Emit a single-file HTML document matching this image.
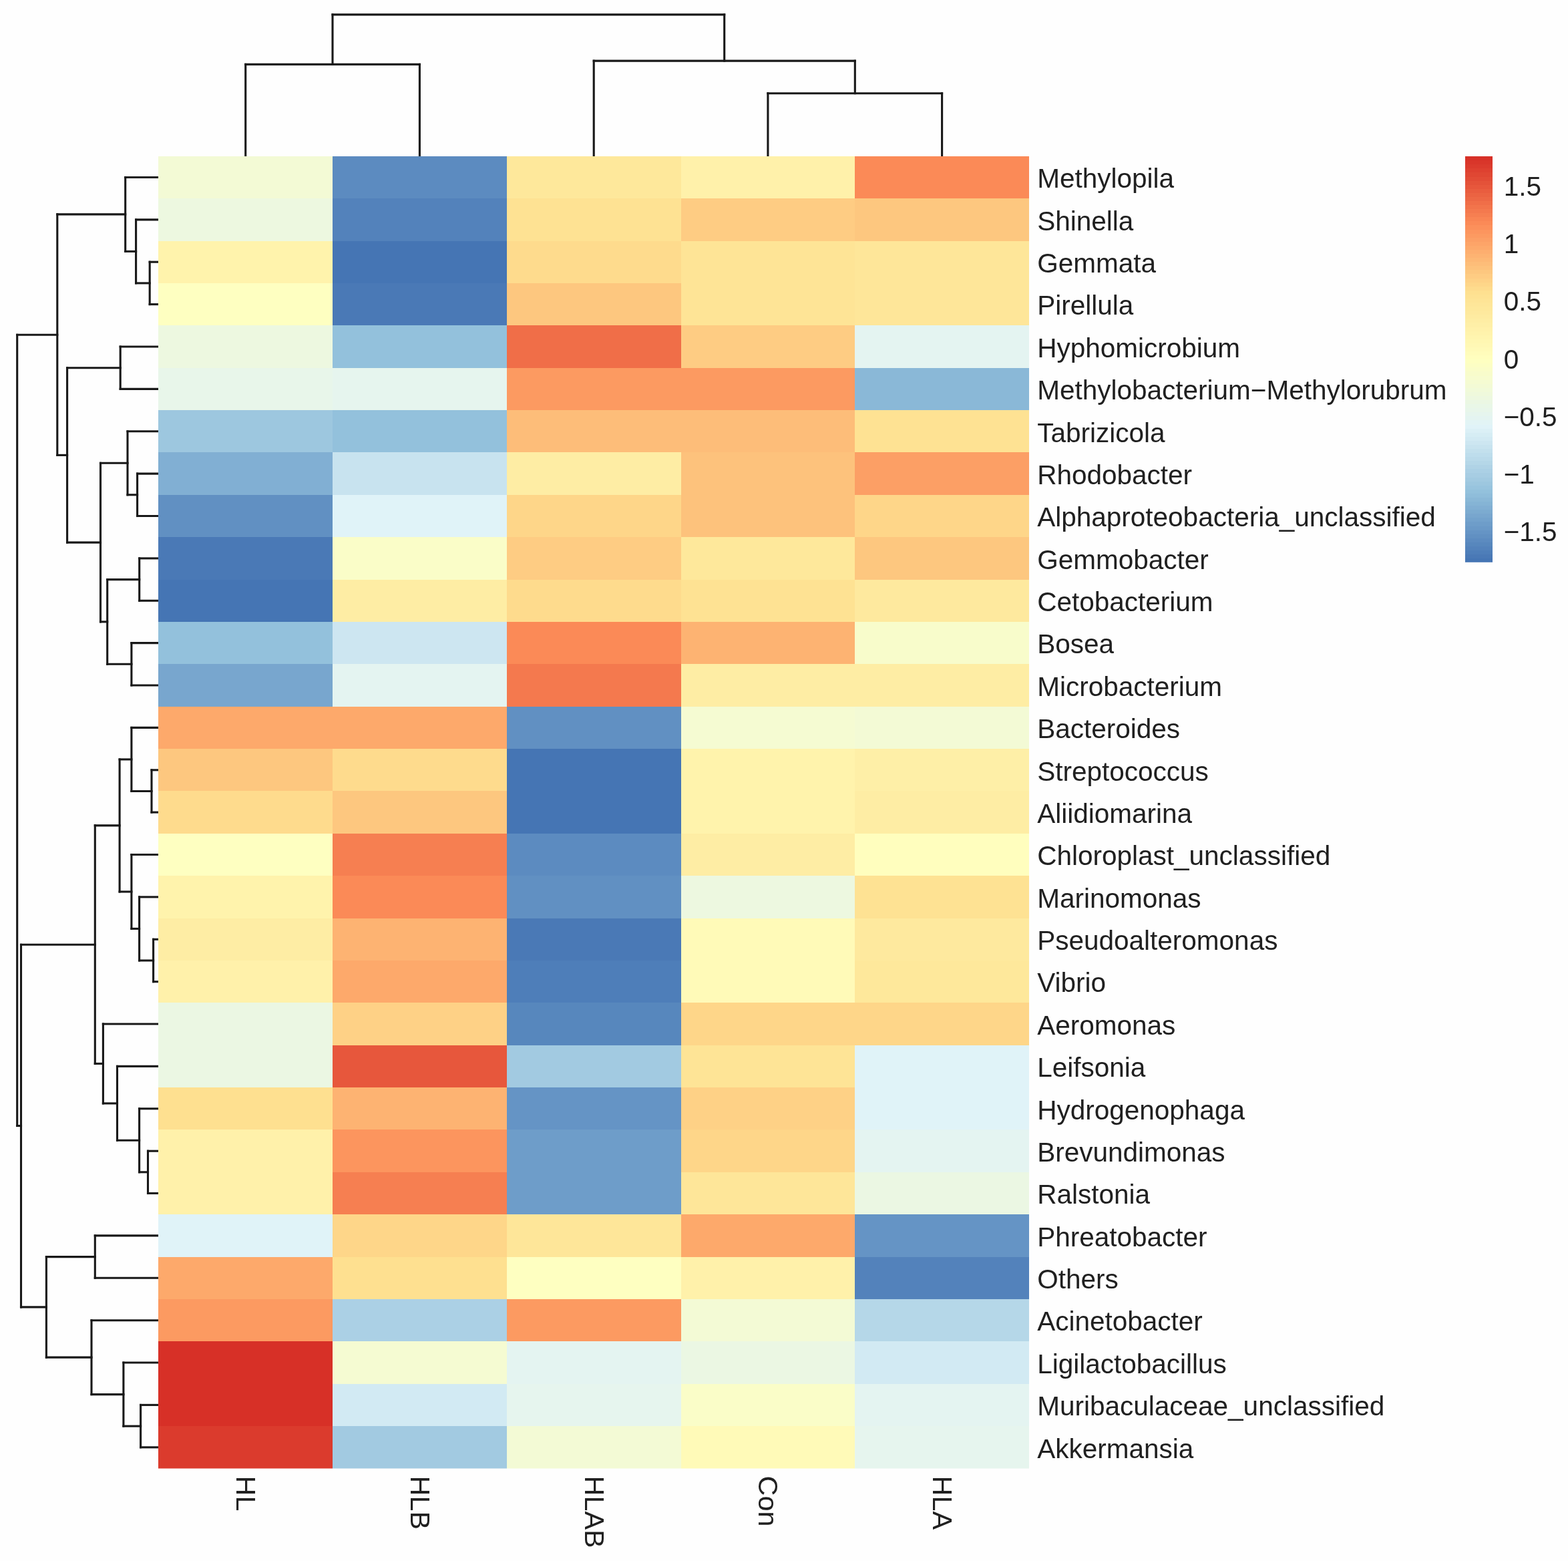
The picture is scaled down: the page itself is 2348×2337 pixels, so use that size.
<!DOCTYPE html>
<html lang="en"><head><meta charset="utf-8"><title>Heatmap</title>
<style>html,body{margin:0;padding:0;background:#fefefe}svg{display:block}</style></head>
<body>
<svg width="2348" height="2337" viewBox="0 0 2348 2337">
<rect width="2348" height="2337" fill="#fefefe"/>
<g stroke="#181818" stroke-width="3.1" stroke-linecap="square" fill="none">
<line x1="224.2" y1="392.2" x2="224.2" y2="455.6"/>
<line x1="224.2" y1="392.2" x2="237.3" y2="392.2"/>
<line x1="224.2" y1="455.6" x2="237.3" y2="455.6"/>
<line x1="203.6" y1="328.9" x2="203.6" y2="423.9"/>
<line x1="203.6" y1="328.9" x2="237.3" y2="328.9"/>
<line x1="203.6" y1="423.9" x2="224.2" y2="423.9"/>
<line x1="187.7" y1="265.5" x2="187.7" y2="376.4"/>
<line x1="187.7" y1="265.5" x2="237.3" y2="265.5"/>
<line x1="187.7" y1="376.4" x2="203.6" y2="376.4"/>
<line x1="180.2" y1="519.0" x2="180.2" y2="582.4"/>
<line x1="180.2" y1="519.0" x2="237.3" y2="519.0"/>
<line x1="180.2" y1="582.4" x2="237.3" y2="582.4"/>
<line x1="205.6" y1="709.1" x2="205.6" y2="772.5"/>
<line x1="205.6" y1="709.1" x2="237.3" y2="709.1"/>
<line x1="205.6" y1="772.5" x2="237.3" y2="772.5"/>
<line x1="191.0" y1="645.8" x2="191.0" y2="740.8"/>
<line x1="191.0" y1="645.8" x2="237.3" y2="645.8"/>
<line x1="191.0" y1="740.8" x2="205.6" y2="740.8"/>
<line x1="208.7" y1="835.9" x2="208.7" y2="899.3"/>
<line x1="208.7" y1="835.9" x2="237.3" y2="835.9"/>
<line x1="208.7" y1="899.3" x2="237.3" y2="899.3"/>
<line x1="196.9" y1="962.6" x2="196.9" y2="1026.0"/>
<line x1="196.9" y1="962.6" x2="237.3" y2="962.6"/>
<line x1="196.9" y1="1026.0" x2="237.3" y2="1026.0"/>
<line x1="160.7" y1="867.6" x2="160.7" y2="994.3"/>
<line x1="160.7" y1="867.6" x2="208.7" y2="867.6"/>
<line x1="160.7" y1="994.3" x2="196.9" y2="994.3"/>
<line x1="150.5" y1="693.3" x2="150.5" y2="930.9"/>
<line x1="150.5" y1="693.3" x2="191.0" y2="693.3"/>
<line x1="150.5" y1="930.9" x2="160.7" y2="930.9"/>
<line x1="100.6" y1="550.7" x2="100.6" y2="812.1"/>
<line x1="100.6" y1="550.7" x2="180.2" y2="550.7"/>
<line x1="100.6" y1="812.1" x2="150.5" y2="812.1"/>
<line x1="85.8" y1="320.9" x2="85.8" y2="681.4"/>
<line x1="85.8" y1="320.9" x2="187.7" y2="320.9"/>
<line x1="85.8" y1="681.4" x2="100.6" y2="681.4"/>
<line x1="227.0" y1="1152.8" x2="227.0" y2="1216.1"/>
<line x1="227.0" y1="1152.8" x2="237.3" y2="1152.8"/>
<line x1="227.0" y1="1216.1" x2="237.3" y2="1216.1"/>
<line x1="196.9" y1="1089.4" x2="196.9" y2="1184.5"/>
<line x1="196.9" y1="1089.4" x2="237.3" y2="1089.4"/>
<line x1="196.9" y1="1184.5" x2="227.0" y2="1184.5"/>
<line x1="229.6" y1="1406.3" x2="229.6" y2="1469.7"/>
<line x1="229.6" y1="1406.3" x2="237.3" y2="1406.3"/>
<line x1="229.6" y1="1469.7" x2="237.3" y2="1469.7"/>
<line x1="208.6" y1="1342.9" x2="208.6" y2="1438.0"/>
<line x1="208.6" y1="1342.9" x2="237.3" y2="1342.9"/>
<line x1="208.6" y1="1438.0" x2="229.6" y2="1438.0"/>
<line x1="196.9" y1="1279.5" x2="196.9" y2="1390.4"/>
<line x1="196.9" y1="1279.5" x2="237.3" y2="1279.5"/>
<line x1="196.9" y1="1390.4" x2="208.6" y2="1390.4"/>
<line x1="179.1" y1="1136.9" x2="179.1" y2="1335.0"/>
<line x1="179.1" y1="1136.9" x2="196.9" y2="1136.9"/>
<line x1="179.1" y1="1335.0" x2="196.9" y2="1335.0"/>
<line x1="221.5" y1="1723.2" x2="221.5" y2="1786.5"/>
<line x1="221.5" y1="1723.2" x2="237.3" y2="1723.2"/>
<line x1="221.5" y1="1786.5" x2="237.3" y2="1786.5"/>
<line x1="208.6" y1="1659.8" x2="208.6" y2="1754.8"/>
<line x1="208.6" y1="1659.8" x2="237.3" y2="1659.8"/>
<line x1="208.6" y1="1754.8" x2="221.5" y2="1754.8"/>
<line x1="175.5" y1="1596.4" x2="175.5" y2="1707.3"/>
<line x1="175.5" y1="1596.4" x2="237.3" y2="1596.4"/>
<line x1="175.5" y1="1707.3" x2="208.6" y2="1707.3"/>
<line x1="154.4" y1="1533.0" x2="154.4" y2="1651.9"/>
<line x1="154.4" y1="1533.0" x2="237.3" y2="1533.0"/>
<line x1="154.4" y1="1651.9" x2="175.5" y2="1651.9"/>
<line x1="142.3" y1="1235.9" x2="142.3" y2="1592.4"/>
<line x1="142.3" y1="1235.9" x2="179.1" y2="1235.9"/>
<line x1="142.3" y1="1592.4" x2="154.4" y2="1592.4"/>
<line x1="142.3" y1="1849.9" x2="142.3" y2="1913.3"/>
<line x1="142.3" y1="1849.9" x2="237.3" y2="1849.9"/>
<line x1="142.3" y1="1913.3" x2="237.3" y2="1913.3"/>
<line x1="210.6" y1="2103.4" x2="210.6" y2="2166.8"/>
<line x1="210.6" y1="2103.4" x2="237.3" y2="2103.4"/>
<line x1="210.6" y1="2166.8" x2="237.3" y2="2166.8"/>
<line x1="184.9" y1="2040.0" x2="184.9" y2="2135.1"/>
<line x1="184.9" y1="2040.0" x2="237.3" y2="2040.0"/>
<line x1="184.9" y1="2135.1" x2="210.6" y2="2135.1"/>
<line x1="137.0" y1="1976.7" x2="137.0" y2="2087.6"/>
<line x1="137.0" y1="1976.7" x2="237.3" y2="1976.7"/>
<line x1="137.0" y1="2087.6" x2="184.9" y2="2087.6"/>
<line x1="69.4" y1="1881.6" x2="69.4" y2="2032.1"/>
<line x1="69.4" y1="1881.6" x2="142.3" y2="1881.6"/>
<line x1="69.4" y1="2032.1" x2="137.0" y2="2032.1"/>
<line x1="31.5" y1="1414.2" x2="31.5" y2="1956.9"/>
<line x1="31.5" y1="1414.2" x2="142.3" y2="1414.2"/>
<line x1="31.5" y1="1956.9" x2="69.4" y2="1956.9"/>
<line x1="25.7" y1="501.2" x2="25.7" y2="1685.5"/>
<line x1="25.7" y1="501.2" x2="85.8" y2="501.2"/>
<line x1="25.7" y1="1685.5" x2="31.5" y2="1685.5"/>
<line x1="367.7" y1="96.4" x2="628.4" y2="96.4"/>
<line x1="367.7" y1="96.4" x2="367.7" y2="233.8"/>
<line x1="628.4" y1="96.4" x2="628.4" y2="233.8"/>
<line x1="1149.9" y1="139.7" x2="1410.6" y2="139.7"/>
<line x1="1149.9" y1="139.7" x2="1149.9" y2="233.8"/>
<line x1="1410.6" y1="139.7" x2="1410.6" y2="233.8"/>
<line x1="889.2" y1="91.1" x2="1280.3" y2="91.1"/>
<line x1="889.2" y1="91.1" x2="889.2" y2="233.8"/>
<line x1="1280.3" y1="91.1" x2="1280.3" y2="139.7"/>
<line x1="498.0" y1="21.9" x2="1084.7" y2="21.9"/>
<line x1="498.0" y1="21.9" x2="498.0" y2="96.4"/>
<line x1="1084.7" y1="21.9" x2="1084.7" y2="91.1"/>
</g>
<g shape-rendering="crispEdges">
<rect x="237.30" y="233.80" width="261.34" height="63.98" fill="#f3fad5"/>
<rect x="498.04" y="233.80" width="261.34" height="63.98" fill="#5c8bc0"/>
<rect x="758.78" y="233.80" width="261.34" height="63.98" fill="#fee89b"/>
<rect x="1019.52" y="233.80" width="261.34" height="63.98" fill="#fff1aa"/>
<rect x="1280.26" y="233.80" width="261.34" height="63.98" fill="#fb8a57"/>
<rect x="237.30" y="297.18" width="261.34" height="63.98" fill="#edf8e0"/>
<rect x="498.04" y="297.18" width="261.34" height="63.98" fill="#5382bb"/>
<rect x="758.78" y="297.18" width="261.34" height="63.98" fill="#fee293"/>
<rect x="1019.52" y="297.18" width="261.34" height="63.98" fill="#fecc83"/>
<rect x="1280.26" y="297.18" width="261.34" height="63.98" fill="#fdc77f"/>
<rect x="237.30" y="360.55" width="261.34" height="63.98" fill="#fff3ac"/>
<rect x="498.04" y="360.55" width="261.34" height="63.98" fill="#4575b4"/>
<rect x="758.78" y="360.55" width="261.34" height="63.98" fill="#fedb8d"/>
<rect x="1019.52" y="360.55" width="261.34" height="63.98" fill="#fee496"/>
<rect x="1280.26" y="360.55" width="261.34" height="63.98" fill="#fee699"/>
<rect x="237.30" y="423.93" width="261.34" height="63.98" fill="#feffc1"/>
<rect x="498.04" y="423.93" width="261.34" height="63.98" fill="#4a79b6"/>
<rect x="758.78" y="423.93" width="261.34" height="63.98" fill="#fdc77f"/>
<rect x="1019.52" y="423.93" width="261.34" height="63.98" fill="#fee496"/>
<rect x="1280.26" y="423.93" width="261.34" height="63.98" fill="#fee699"/>
<rect x="237.30" y="487.31" width="261.34" height="63.98" fill="#edf8e0"/>
<rect x="498.04" y="487.31" width="261.34" height="63.98" fill="#93c1dc"/>
<rect x="758.78" y="487.31" width="261.34" height="63.98" fill="#f06e48"/>
<rect x="1019.52" y="487.31" width="261.34" height="63.98" fill="#fecc83"/>
<rect x="1280.26" y="487.31" width="261.34" height="63.98" fill="#e4f4f1"/>
<rect x="237.30" y="550.68" width="261.34" height="63.98" fill="#e8f6ea"/>
<rect x="498.04" y="550.68" width="261.34" height="63.98" fill="#e6f5ee"/>
<rect x="758.78" y="550.68" width="261.34" height="63.98" fill="#fc9a61"/>
<rect x="1019.52" y="550.68" width="261.34" height="63.98" fill="#fc9a61"/>
<rect x="1280.26" y="550.68" width="261.34" height="63.98" fill="#8ab8d7"/>
<rect x="237.30" y="614.06" width="261.34" height="63.98" fill="#9dc7df"/>
<rect x="498.04" y="614.06" width="261.34" height="63.98" fill="#93c1dc"/>
<rect x="758.78" y="614.06" width="261.34" height="63.98" fill="#fdbd79"/>
<rect x="1019.52" y="614.06" width="261.34" height="63.98" fill="#fdbd79"/>
<rect x="1280.26" y="614.06" width="261.34" height="63.98" fill="#fee293"/>
<rect x="237.30" y="677.44" width="261.34" height="63.98" fill="#81afd3"/>
<rect x="498.04" y="677.44" width="261.34" height="63.98" fill="#c8e3ef"/>
<rect x="758.78" y="677.44" width="261.34" height="63.98" fill="#feeda4"/>
<rect x="1019.52" y="677.44" width="261.34" height="63.98" fill="#fdc27c"/>
<rect x="1280.26" y="677.44" width="261.34" height="63.98" fill="#fc9f65"/>
<rect x="237.30" y="740.82" width="261.34" height="63.98" fill="#6190c2"/>
<rect x="498.04" y="740.82" width="261.34" height="63.98" fill="#e0f3f8"/>
<rect x="758.78" y="740.82" width="261.34" height="63.98" fill="#fed689"/>
<rect x="1019.52" y="740.82" width="261.34" height="63.98" fill="#fdc27c"/>
<rect x="1280.26" y="740.82" width="261.34" height="63.98" fill="#fed689"/>
<rect x="237.30" y="804.19" width="261.34" height="63.98" fill="#4a79b6"/>
<rect x="498.04" y="804.19" width="261.34" height="63.98" fill="#fafdc8"/>
<rect x="758.78" y="804.19" width="261.34" height="63.98" fill="#fecc83"/>
<rect x="1019.52" y="804.19" width="261.34" height="63.98" fill="#fee89b"/>
<rect x="1280.26" y="804.19" width="261.34" height="63.98" fill="#fdc77f"/>
<rect x="237.30" y="867.57" width="261.34" height="63.98" fill="#4575b4"/>
<rect x="498.04" y="867.57" width="261.34" height="63.98" fill="#feeda4"/>
<rect x="758.78" y="867.57" width="261.34" height="63.98" fill="#fedb8d"/>
<rect x="1019.52" y="867.57" width="261.34" height="63.98" fill="#fee293"/>
<rect x="1280.26" y="867.57" width="261.34" height="63.98" fill="#fee99e"/>
<rect x="237.30" y="930.95" width="261.34" height="63.98" fill="#93c1dc"/>
<rect x="498.04" y="930.95" width="261.34" height="63.98" fill="#cde6f1"/>
<rect x="758.78" y="930.95" width="261.34" height="63.98" fill="#fb8a57"/>
<rect x="1019.52" y="930.95" width="261.34" height="63.98" fill="#fdb372"/>
<rect x="1280.26" y="930.95" width="261.34" height="63.98" fill="#f8fccb"/>
<rect x="237.30" y="994.32" width="261.34" height="63.98" fill="#78a6ce"/>
<rect x="498.04" y="994.32" width="261.34" height="63.98" fill="#e4f4f1"/>
<rect x="758.78" y="994.32" width="261.34" height="63.98" fill="#f4794e"/>
<rect x="1019.52" y="994.32" width="261.34" height="63.98" fill="#feeda4"/>
<rect x="1280.26" y="994.32" width="261.34" height="63.98" fill="#feeda4"/>
<rect x="237.30" y="1057.70" width="261.34" height="63.98" fill="#fda96b"/>
<rect x="498.04" y="1057.70" width="261.34" height="63.98" fill="#fda96b"/>
<rect x="758.78" y="1057.70" width="261.34" height="63.98" fill="#6190c2"/>
<rect x="1019.52" y="1057.70" width="261.34" height="63.98" fill="#f5fbd2"/>
<rect x="1280.26" y="1057.70" width="261.34" height="63.98" fill="#f3fad5"/>
<rect x="237.30" y="1121.08" width="261.34" height="63.98" fill="#fdc77f"/>
<rect x="498.04" y="1121.08" width="261.34" height="63.98" fill="#fedb8d"/>
<rect x="758.78" y="1121.08" width="261.34" height="63.98" fill="#4575b4"/>
<rect x="1019.52" y="1121.08" width="261.34" height="63.98" fill="#fff3ac"/>
<rect x="1280.26" y="1121.08" width="261.34" height="63.98" fill="#feefa7"/>
<rect x="237.30" y="1184.46" width="261.34" height="63.98" fill="#fedb8d"/>
<rect x="498.04" y="1184.46" width="261.34" height="63.98" fill="#fdc77f"/>
<rect x="758.78" y="1184.46" width="261.34" height="63.98" fill="#4575b4"/>
<rect x="1019.52" y="1184.46" width="261.34" height="63.98" fill="#fff3ac"/>
<rect x="1280.26" y="1184.46" width="261.34" height="63.98" fill="#feeda4"/>
<rect x="237.30" y="1247.83" width="261.34" height="63.98" fill="#feffc1"/>
<rect x="498.04" y="1247.83" width="261.34" height="63.98" fill="#f67f51"/>
<rect x="758.78" y="1247.83" width="261.34" height="63.98" fill="#5c8bc0"/>
<rect x="1019.52" y="1247.83" width="261.34" height="63.98" fill="#feeda4"/>
<rect x="1280.26" y="1247.83" width="261.34" height="63.98" fill="#fffebe"/>
<rect x="237.30" y="1311.21" width="261.34" height="63.98" fill="#fff3ac"/>
<rect x="498.04" y="1311.21" width="261.34" height="63.98" fill="#fb8a57"/>
<rect x="758.78" y="1311.21" width="261.34" height="63.98" fill="#6190c2"/>
<rect x="1019.52" y="1311.21" width="261.34" height="63.98" fill="#edf8e0"/>
<rect x="1280.26" y="1311.21" width="261.34" height="63.98" fill="#fee293"/>
<rect x="237.30" y="1374.59" width="261.34" height="63.98" fill="#feeda4"/>
<rect x="498.04" y="1374.59" width="261.34" height="63.98" fill="#fdb372"/>
<rect x="758.78" y="1374.59" width="261.34" height="63.98" fill="#4a79b6"/>
<rect x="1019.52" y="1374.59" width="261.34" height="63.98" fill="#fffab8"/>
<rect x="1280.26" y="1374.59" width="261.34" height="63.98" fill="#fee99e"/>
<rect x="237.30" y="1437.96" width="261.34" height="63.98" fill="#fff1aa"/>
<rect x="498.04" y="1437.96" width="261.34" height="63.98" fill="#fda96b"/>
<rect x="758.78" y="1437.96" width="261.34" height="63.98" fill="#4e7eb9"/>
<rect x="1019.52" y="1437.96" width="261.34" height="63.98" fill="#fffab8"/>
<rect x="1280.26" y="1437.96" width="261.34" height="63.98" fill="#fee89b"/>
<rect x="237.30" y="1501.34" width="261.34" height="63.98" fill="#ebf7e3"/>
<rect x="498.04" y="1501.34" width="261.34" height="63.98" fill="#fed186"/>
<rect x="758.78" y="1501.34" width="261.34" height="63.98" fill="#5787bd"/>
<rect x="1019.52" y="1501.34" width="261.34" height="63.98" fill="#fed689"/>
<rect x="1280.26" y="1501.34" width="261.34" height="63.98" fill="#fed689"/>
<rect x="237.30" y="1564.72" width="261.34" height="63.98" fill="#ebf7e3"/>
<rect x="498.04" y="1564.72" width="261.34" height="63.98" fill="#e7573c"/>
<rect x="758.78" y="1564.72" width="261.34" height="63.98" fill="#a2cae1"/>
<rect x="1019.52" y="1564.72" width="261.34" height="63.98" fill="#fee496"/>
<rect x="1280.26" y="1564.72" width="261.34" height="63.98" fill="#e0f3f8"/>
<rect x="237.30" y="1628.09" width="261.34" height="63.98" fill="#fee090"/>
<rect x="498.04" y="1628.09" width="261.34" height="63.98" fill="#fdb372"/>
<rect x="758.78" y="1628.09" width="261.34" height="63.98" fill="#6594c5"/>
<rect x="1019.52" y="1628.09" width="261.34" height="63.98" fill="#fed186"/>
<rect x="1280.26" y="1628.09" width="261.34" height="63.98" fill="#e0f3f8"/>
<rect x="237.30" y="1691.47" width="261.34" height="63.98" fill="#fff1aa"/>
<rect x="498.04" y="1691.47" width="261.34" height="63.98" fill="#fc955e"/>
<rect x="758.78" y="1691.47" width="261.34" height="63.98" fill="#6e9dc9"/>
<rect x="1019.52" y="1691.47" width="261.34" height="63.98" fill="#fed689"/>
<rect x="1280.26" y="1691.47" width="261.34" height="63.98" fill="#e4f4f1"/>
<rect x="237.30" y="1754.85" width="261.34" height="63.98" fill="#fff1aa"/>
<rect x="498.04" y="1754.85" width="261.34" height="63.98" fill="#f67f51"/>
<rect x="758.78" y="1754.85" width="261.34" height="63.98" fill="#6e9dc9"/>
<rect x="1019.52" y="1754.85" width="261.34" height="63.98" fill="#fee699"/>
<rect x="1280.26" y="1754.85" width="261.34" height="63.98" fill="#ebf7e3"/>
<rect x="237.30" y="1818.22" width="261.34" height="63.98" fill="#e0f3f8"/>
<rect x="498.04" y="1818.22" width="261.34" height="63.98" fill="#fed689"/>
<rect x="758.78" y="1818.22" width="261.34" height="63.98" fill="#fee699"/>
<rect x="1019.52" y="1818.22" width="261.34" height="63.98" fill="#fda96b"/>
<rect x="1280.26" y="1818.22" width="261.34" height="63.98" fill="#6594c5"/>
<rect x="237.30" y="1881.60" width="261.34" height="63.98" fill="#fda96b"/>
<rect x="498.04" y="1881.60" width="261.34" height="63.98" fill="#fee090"/>
<rect x="758.78" y="1881.60" width="261.34" height="63.98" fill="#feffc1"/>
<rect x="1019.52" y="1881.60" width="261.34" height="63.98" fill="#fff1aa"/>
<rect x="1280.26" y="1881.60" width="261.34" height="63.98" fill="#5382bb"/>
<rect x="237.30" y="1944.98" width="261.34" height="63.98" fill="#fc9a61"/>
<rect x="498.04" y="1944.98" width="261.34" height="63.98" fill="#abd0e5"/>
<rect x="758.78" y="1944.98" width="261.34" height="63.98" fill="#fc9a61"/>
<rect x="1019.52" y="1944.98" width="261.34" height="63.98" fill="#f3fad5"/>
<rect x="1280.26" y="1944.98" width="261.34" height="63.98" fill="#b5d7e8"/>
<rect x="237.30" y="2008.36" width="261.34" height="63.98" fill="#d73027"/>
<rect x="498.04" y="2008.36" width="261.34" height="63.98" fill="#f5fbd2"/>
<rect x="758.78" y="2008.36" width="261.34" height="63.98" fill="#e4f4f1"/>
<rect x="1019.52" y="2008.36" width="261.34" height="63.98" fill="#ebf7e3"/>
<rect x="1280.26" y="2008.36" width="261.34" height="63.98" fill="#d2eaf3"/>
<rect x="237.30" y="2071.73" width="261.34" height="63.98" fill="#d73027"/>
<rect x="498.04" y="2071.73" width="261.34" height="63.98" fill="#d2eaf3"/>
<rect x="758.78" y="2071.73" width="261.34" height="63.98" fill="#e6f5ee"/>
<rect x="1019.52" y="2071.73" width="261.34" height="63.98" fill="#fafdc8"/>
<rect x="1280.26" y="2071.73" width="261.34" height="63.98" fill="#e4f4f1"/>
<rect x="237.30" y="2135.11" width="261.34" height="63.98" fill="#db3b2d"/>
<rect x="498.04" y="2135.11" width="261.34" height="63.98" fill="#a2cae1"/>
<rect x="758.78" y="2135.11" width="261.34" height="63.98" fill="#f3fad5"/>
<rect x="1019.52" y="2135.11" width="261.34" height="63.98" fill="#fffab8"/>
<rect x="1280.26" y="2135.11" width="261.34" height="63.98" fill="#e6f5ee"/>
</g>
<rect x="1541.00" y="232.80" width="2" height="1967.69" fill="#fefefe"/>
<rect x="236.30" y="2198.49" width="1306.70" height="2" fill="#fefefe"/>
<g shape-rendering="crispEdges">
<rect x="2194.0" y="835.72" width="41.0" height="6.58" fill="#4575b4"/>
<rect x="2194.0" y="829.64" width="41.0" height="6.58" fill="#4a79b6"/>
<rect x="2194.0" y="823.55" width="41.0" height="6.58" fill="#4e7eb9"/>
<rect x="2194.0" y="817.47" width="41.0" height="6.58" fill="#5382bb"/>
<rect x="2194.0" y="811.39" width="41.0" height="6.58" fill="#5787bd"/>
<rect x="2194.0" y="805.31" width="41.0" height="6.58" fill="#5c8bc0"/>
<rect x="2194.0" y="799.23" width="41.0" height="6.58" fill="#6190c2"/>
<rect x="2194.0" y="793.14" width="41.0" height="6.58" fill="#6594c5"/>
<rect x="2194.0" y="787.06" width="41.0" height="6.58" fill="#6a99c7"/>
<rect x="2194.0" y="780.98" width="41.0" height="6.58" fill="#6e9dc9"/>
<rect x="2194.0" y="774.90" width="41.0" height="6.58" fill="#73a2cc"/>
<rect x="2194.0" y="768.82" width="41.0" height="6.58" fill="#78a6ce"/>
<rect x="2194.0" y="762.73" width="41.0" height="6.58" fill="#7cabd0"/>
<rect x="2194.0" y="756.65" width="41.0" height="6.58" fill="#81afd3"/>
<rect x="2194.0" y="750.57" width="41.0" height="6.58" fill="#85b4d5"/>
<rect x="2194.0" y="744.49" width="41.0" height="6.58" fill="#8ab8d7"/>
<rect x="2194.0" y="738.41" width="41.0" height="6.58" fill="#8fbdda"/>
<rect x="2194.0" y="732.32" width="41.0" height="6.58" fill="#93c1dc"/>
<rect x="2194.0" y="726.24" width="41.0" height="6.58" fill="#98c4de"/>
<rect x="2194.0" y="720.16" width="41.0" height="6.58" fill="#9dc7df"/>
<rect x="2194.0" y="714.08" width="41.0" height="6.58" fill="#a2cae1"/>
<rect x="2194.0" y="708.00" width="41.0" height="6.58" fill="#a7cde3"/>
<rect x="2194.0" y="701.91" width="41.0" height="6.58" fill="#abd0e5"/>
<rect x="2194.0" y="695.83" width="41.0" height="6.58" fill="#b0d3e6"/>
<rect x="2194.0" y="689.75" width="41.0" height="6.58" fill="#b5d7e8"/>
<rect x="2194.0" y="683.67" width="41.0" height="6.58" fill="#badaea"/>
<rect x="2194.0" y="677.59" width="41.0" height="6.58" fill="#beddec"/>
<rect x="2194.0" y="671.50" width="41.0" height="6.58" fill="#c3e0ed"/>
<rect x="2194.0" y="665.42" width="41.0" height="6.58" fill="#c8e3ef"/>
<rect x="2194.0" y="659.34" width="41.0" height="6.58" fill="#cde6f1"/>
<rect x="2194.0" y="653.26" width="41.0" height="6.58" fill="#d2eaf3"/>
<rect x="2194.0" y="647.18" width="41.0" height="6.58" fill="#d6edf4"/>
<rect x="2194.0" y="641.09" width="41.0" height="6.58" fill="#dbf0f6"/>
<rect x="2194.0" y="635.01" width="41.0" height="6.58" fill="#e0f3f8"/>
<rect x="2194.0" y="628.93" width="41.0" height="6.58" fill="#e2f4f5"/>
<rect x="2194.0" y="622.85" width="41.0" height="6.58" fill="#e4f4f1"/>
<rect x="2194.0" y="616.77" width="41.0" height="6.58" fill="#e6f5ee"/>
<rect x="2194.0" y="610.68" width="41.0" height="6.58" fill="#e8f6ea"/>
<rect x="2194.0" y="604.60" width="41.0" height="6.58" fill="#e9f7e7"/>
<rect x="2194.0" y="598.52" width="41.0" height="6.58" fill="#ebf7e3"/>
<rect x="2194.0" y="592.44" width="41.0" height="6.58" fill="#edf8e0"/>
<rect x="2194.0" y="586.36" width="41.0" height="6.58" fill="#eff9dc"/>
<rect x="2194.0" y="580.27" width="41.0" height="6.58" fill="#f1fad9"/>
<rect x="2194.0" y="574.19" width="41.0" height="6.58" fill="#f3fad5"/>
<rect x="2194.0" y="568.11" width="41.0" height="6.58" fill="#f5fbd2"/>
<rect x="2194.0" y="562.03" width="41.0" height="6.58" fill="#f7fccf"/>
<rect x="2194.0" y="555.95" width="41.0" height="6.58" fill="#f8fccb"/>
<rect x="2194.0" y="549.86" width="41.0" height="6.58" fill="#fafdc8"/>
<rect x="2194.0" y="543.78" width="41.0" height="6.58" fill="#fcfec4"/>
<rect x="2194.0" y="537.70" width="41.0" height="6.58" fill="#feffc1"/>
<rect x="2194.0" y="531.62" width="41.0" height="6.58" fill="#fffebe"/>
<rect x="2194.0" y="525.54" width="41.0" height="6.58" fill="#fffcbb"/>
<rect x="2194.0" y="519.45" width="41.0" height="6.58" fill="#fffab8"/>
<rect x="2194.0" y="513.37" width="41.0" height="6.58" fill="#fff8b5"/>
<rect x="2194.0" y="507.29" width="41.0" height="6.58" fill="#fff7b2"/>
<rect x="2194.0" y="501.21" width="41.0" height="6.58" fill="#fff5af"/>
<rect x="2194.0" y="495.13" width="41.0" height="6.58" fill="#fff3ac"/>
<rect x="2194.0" y="489.04" width="41.0" height="6.58" fill="#fff1aa"/>
<rect x="2194.0" y="482.96" width="41.0" height="6.58" fill="#feefa7"/>
<rect x="2194.0" y="476.88" width="41.0" height="6.58" fill="#feeda4"/>
<rect x="2194.0" y="470.80" width="41.0" height="6.58" fill="#feeba1"/>
<rect x="2194.0" y="464.72" width="41.0" height="6.58" fill="#fee99e"/>
<rect x="2194.0" y="458.63" width="41.0" height="6.58" fill="#fee89b"/>
<rect x="2194.0" y="452.55" width="41.0" height="6.58" fill="#fee699"/>
<rect x="2194.0" y="446.47" width="41.0" height="6.58" fill="#fee496"/>
<rect x="2194.0" y="440.39" width="41.0" height="6.58" fill="#fee293"/>
<rect x="2194.0" y="434.31" width="41.0" height="6.58" fill="#fee090"/>
<rect x="2194.0" y="428.22" width="41.0" height="6.58" fill="#fedb8d"/>
<rect x="2194.0" y="422.14" width="41.0" height="6.58" fill="#fed689"/>
<rect x="2194.0" y="416.06" width="41.0" height="6.58" fill="#fed186"/>
<rect x="2194.0" y="409.98" width="41.0" height="6.58" fill="#fecc83"/>
<rect x="2194.0" y="403.90" width="41.0" height="6.58" fill="#fdc77f"/>
<rect x="2194.0" y="397.81" width="41.0" height="6.58" fill="#fdc27c"/>
<rect x="2194.0" y="391.73" width="41.0" height="6.58" fill="#fdbd79"/>
<rect x="2194.0" y="385.65" width="41.0" height="6.58" fill="#fdb875"/>
<rect x="2194.0" y="379.57" width="41.0" height="6.58" fill="#fdb372"/>
<rect x="2194.0" y="373.49" width="41.0" height="6.58" fill="#fdae6f"/>
<rect x="2194.0" y="367.40" width="41.0" height="6.58" fill="#fda96b"/>
<rect x="2194.0" y="361.32" width="41.0" height="6.58" fill="#fda468"/>
<rect x="2194.0" y="355.24" width="41.0" height="6.58" fill="#fc9f65"/>
<rect x="2194.0" y="349.16" width="41.0" height="6.58" fill="#fc9a61"/>
<rect x="2194.0" y="343.08" width="41.0" height="6.58" fill="#fc955e"/>
<rect x="2194.0" y="336.99" width="41.0" height="6.58" fill="#fc905b"/>
<rect x="2194.0" y="330.91" width="41.0" height="6.58" fill="#fb8a57"/>
<rect x="2194.0" y="324.83" width="41.0" height="6.58" fill="#f98554"/>
<rect x="2194.0" y="318.75" width="41.0" height="6.58" fill="#f67f51"/>
<rect x="2194.0" y="312.67" width="41.0" height="6.58" fill="#f4794e"/>
<rect x="2194.0" y="306.58" width="41.0" height="6.58" fill="#f2744b"/>
<rect x="2194.0" y="300.50" width="41.0" height="6.58" fill="#f06e48"/>
<rect x="2194.0" y="294.42" width="41.0" height="6.58" fill="#ed6845"/>
<rect x="2194.0" y="288.34" width="41.0" height="6.58" fill="#eb6342"/>
<rect x="2194.0" y="282.26" width="41.0" height="6.58" fill="#e95d3f"/>
<rect x="2194.0" y="276.17" width="41.0" height="6.58" fill="#e7573c"/>
<rect x="2194.0" y="270.09" width="41.0" height="6.58" fill="#e45239"/>
<rect x="2194.0" y="264.01" width="41.0" height="6.58" fill="#e24c36"/>
<rect x="2194.0" y="257.93" width="41.0" height="6.58" fill="#e04733"/>
<rect x="2194.0" y="251.85" width="41.0" height="6.58" fill="#de4130"/>
<rect x="2194.0" y="245.76" width="41.0" height="6.58" fill="#db3b2d"/>
<rect x="2194.0" y="239.68" width="41.0" height="6.58" fill="#d9362a"/>
<rect x="2194.0" y="233.60" width="41.0" height="6.58" fill="#d73027"/>
</g>
<rect x="2193.0" y="841.80" width="43.0" height="2" fill="#fefefe"/>
<g font-family="'Liberation Sans', Arial, Helvetica, sans-serif" font-size="40.5" fill="#202020">
<text x="2251.7" y="293.2">1.5</text>
<text x="2251.7" y="379.3">1</text>
<text x="2251.7" y="465.4">0.5</text>
<text x="2251.7" y="551.5">0</text>
<text x="2251.7" y="637.6">−0.5</text>
<text x="2251.7" y="723.7">−1</text>
<text x="2251.7" y="809.8">−1.5</text>
<text x="1553.2" y="281.2">Methylopila</text>
<text x="1553.2" y="344.6">Shinella</text>
<text x="1553.2" y="407.9">Gemmata</text>
<text x="1553.2" y="471.3">Pirellula</text>
<text x="1553.2" y="534.7">Hyphomicrobium</text>
<text x="1553.2" y="598.1">Methylobacterium−Methylorubrum</text>
<text x="1553.2" y="661.5">Tabrizicola</text>
<text x="1553.2" y="724.8">Rhodobacter</text>
<text x="1553.2" y="788.2">Alphaproteobacteria_unclassified</text>
<text x="1553.2" y="851.6">Gemmobacter</text>
<text x="1553.2" y="915.0">Cetobacterium</text>
<text x="1553.2" y="978.3">Bosea</text>
<text x="1553.2" y="1041.7">Microbacterium</text>
<text x="1553.2" y="1105.1">Bacteroides</text>
<text x="1553.2" y="1168.5">Streptococcus</text>
<text x="1553.2" y="1231.8">Aliidiomarina</text>
<text x="1553.2" y="1295.2">Chloroplast_unclassified</text>
<text x="1553.2" y="1358.6">Marinomonas</text>
<text x="1553.2" y="1422.0">Pseudoalteromonas</text>
<text x="1553.2" y="1485.4">Vibrio</text>
<text x="1553.2" y="1548.7">Aeromonas</text>
<text x="1553.2" y="1612.1">Leifsonia</text>
<text x="1553.2" y="1675.5">Hydrogenophaga</text>
<text x="1553.2" y="1738.9">Brevundimonas</text>
<text x="1553.2" y="1802.2">Ralstonia</text>
<text x="1553.2" y="1865.6">Phreatobacter</text>
<text x="1553.2" y="1929.0">Others</text>
<text x="1553.2" y="1992.4">Acinetobacter</text>
<text x="1553.2" y="2055.7">Ligilactobacillus</text>
<text x="1553.2" y="2119.1">Muribaculaceae_unclassified</text>
<text x="1553.2" y="2182.5">Akkermansia</text>
<text font-size="41.3" transform="translate(354.0,2209.6) rotate(90)">HL</text>
<text font-size="41.3" transform="translate(614.7,2209.6) rotate(90)">HLB</text>
<text font-size="41.3" transform="translate(875.5,2209.6) rotate(90)">HLAB</text>
<text font-size="41.3" transform="translate(1136.2,2209.6) rotate(90)">Con</text>
<text font-size="41.3" transform="translate(1396.9,2209.6) rotate(90)">HLA</text>
</g>
</svg>
</body></html>
